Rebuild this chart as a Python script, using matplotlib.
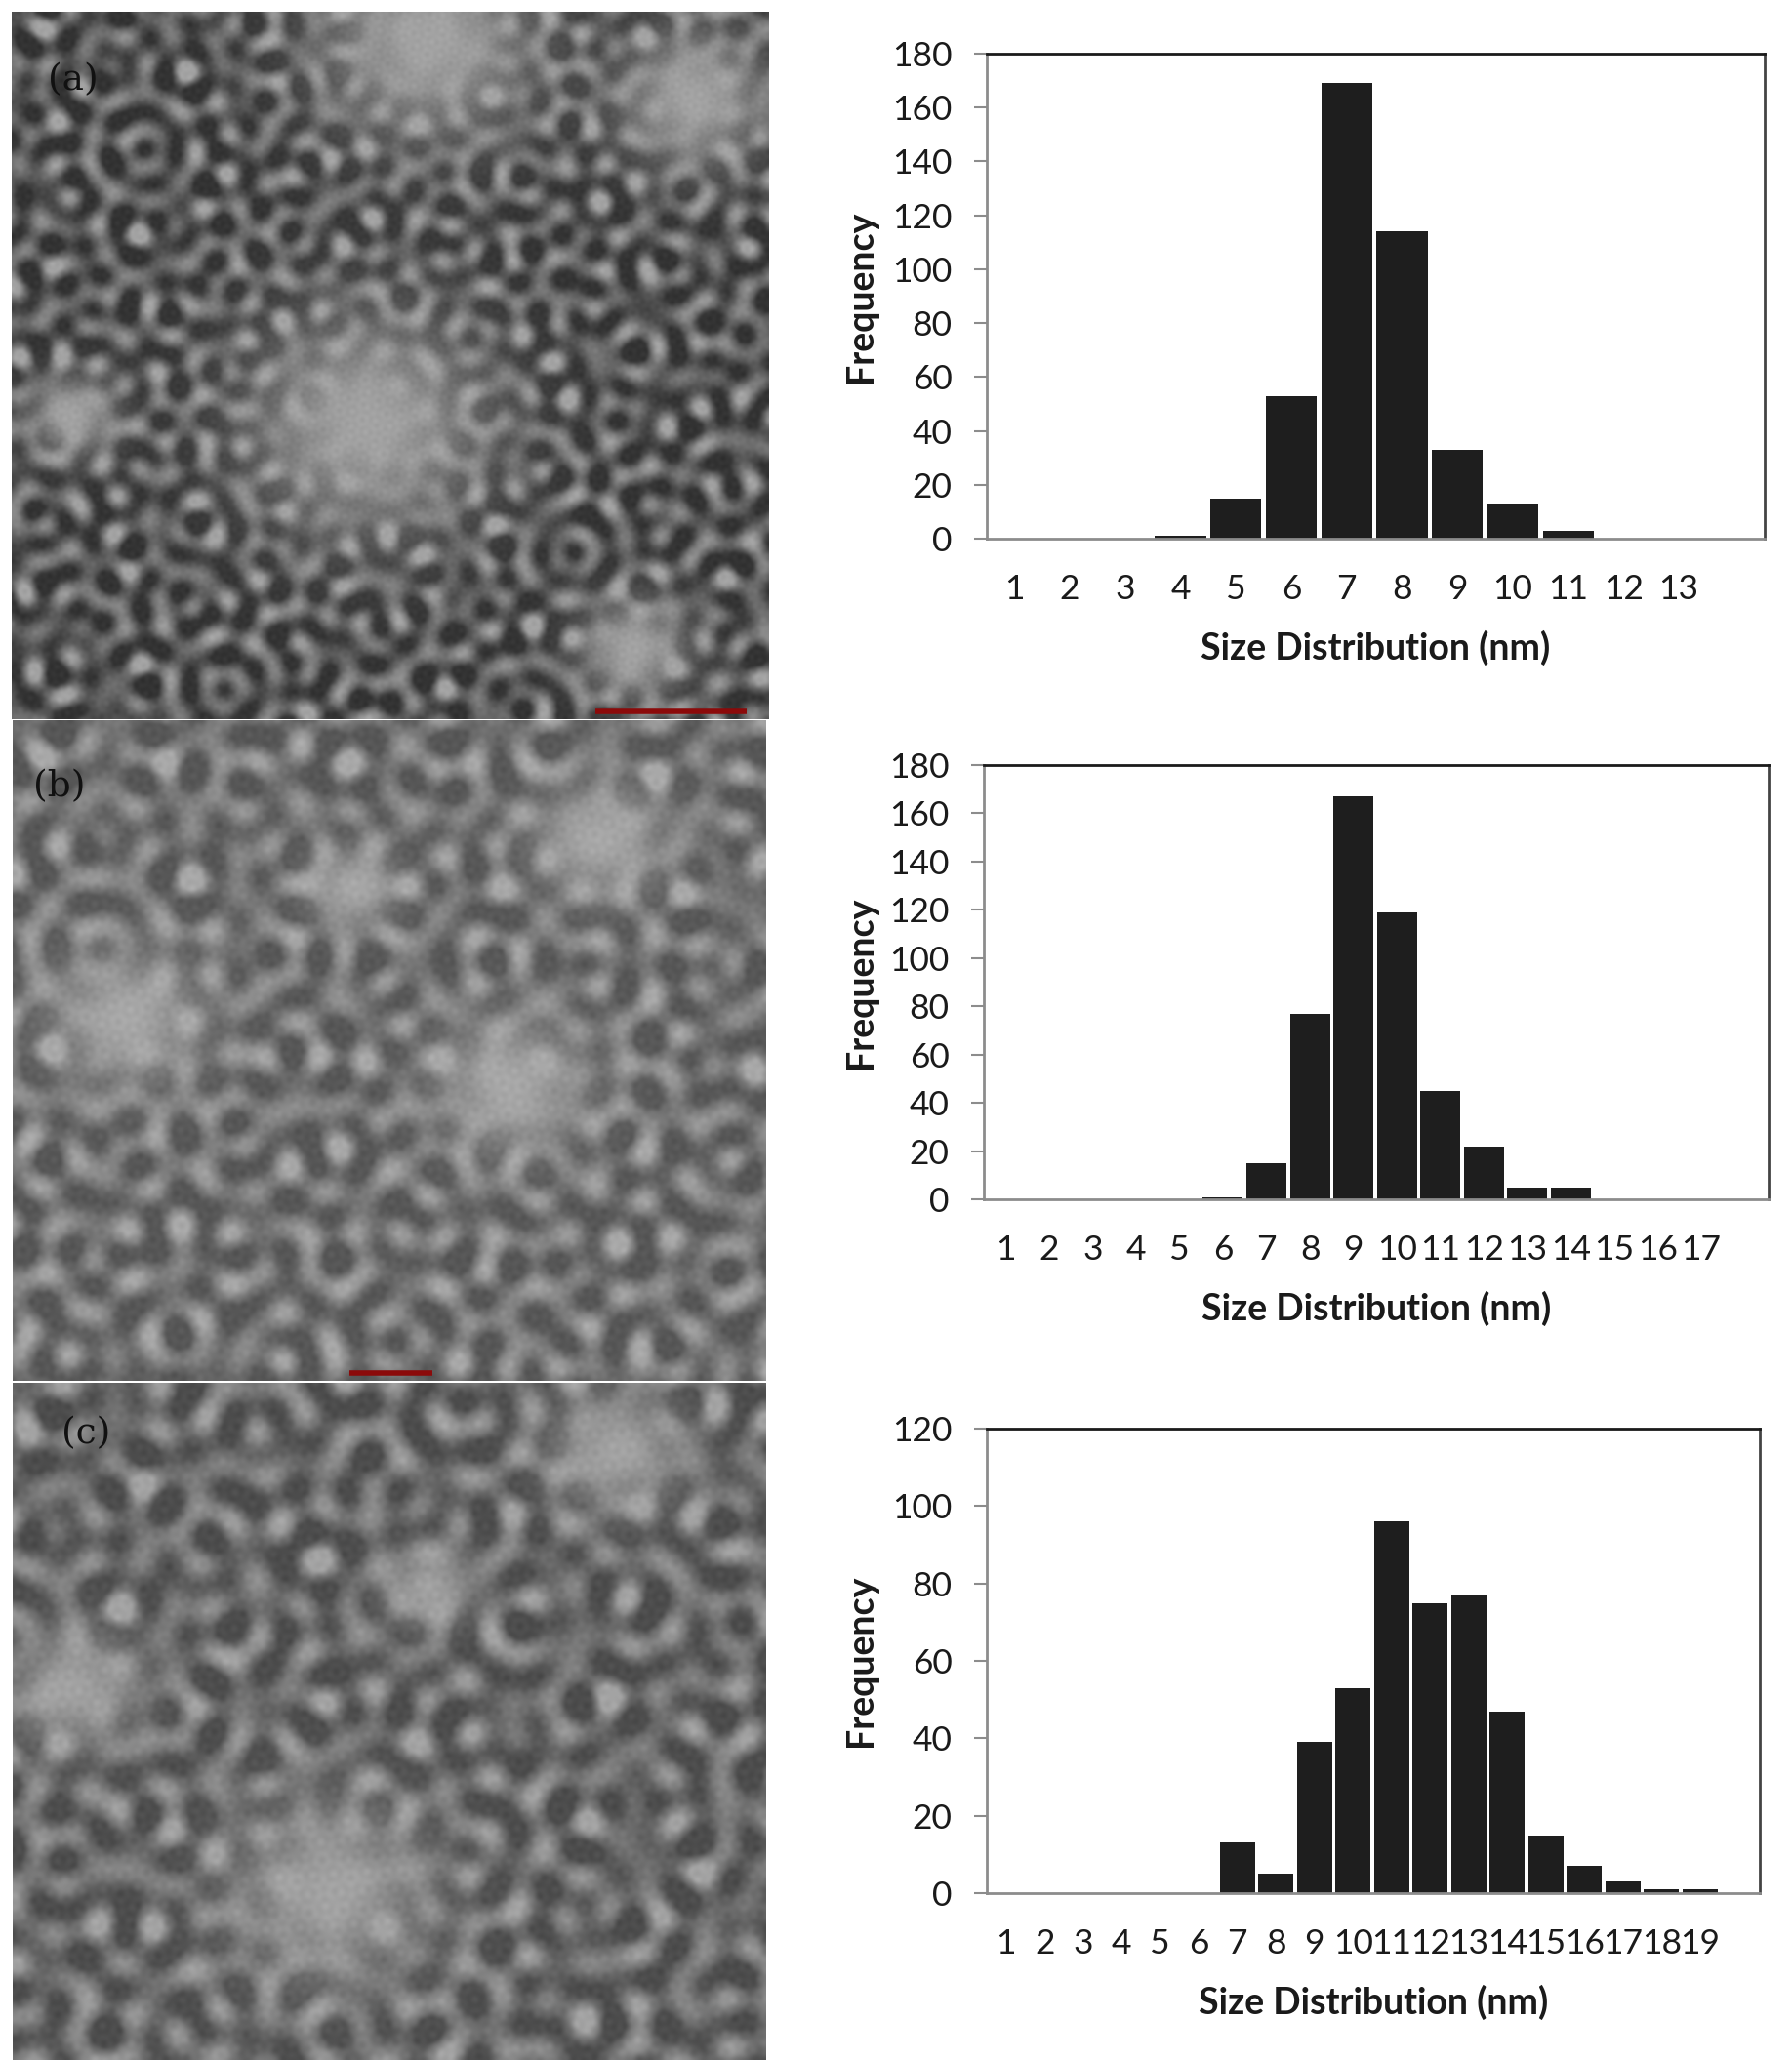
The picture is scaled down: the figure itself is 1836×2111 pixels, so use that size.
# TEM micrographs (placeholder texture) + particle size histograms
import matplotlib
matplotlib.use('Agg')
import matplotlib.pyplot as plt
import numpy as np

plt.rcParams['font.family'] = ['Lato', 'DejaVu Sans']

# size distribution data
sizes_a = list(range(1, 15))
freq_a = [0, 0, 0, 1, 15, 53, 169, 114, 33, 13, 3, 0, 0, 0]
labels_a = [str(i) for i in range(1, 14)] + ['']

sizes_b = list(range(1, 19))
freq_b = [0, 0, 0, 0, 0, 1, 15, 77, 167, 119, 45, 22, 5, 5, 0, 0, 0, 0]
labels_b = [str(i) for i in range(1, 18)] + ['']

sizes_c = list(range(1, 21))
freq_c = [0, 0, 0, 0, 0, 0, 13, 5, 39, 53, 96, 75, 77, 47, 15, 7, 3, 1, 1, 0]
labels_c = [str(i) for i in range(1, 20)] + ['']

panel_tags = ['(a)', '(b)', '(c)']

W, H = 1836, 2111
fig = plt.figure(figsize=(W / 100, H / 100), dpi=100)


def px_axes(x0, y0, x1, y1):
    # rectangle given in pixel coords (top-left origin)
    return fig.add_axes([x0 / W, 1 - y1 / H, (x1 - x0) / W, (y1 - y0) / H])


def quasi(h, w, wl, n, rot):
    # sum of plane waves in n directions -> blobby quasi-periodic pattern
    yy, xx = np.mgrid[0:h, 0:w].astype(float)
    s = np.zeros((h, w))
    for i in range(n):
        a = rot + np.pi * i / n
        s += np.cos(2 * np.pi / wl * (xx * np.cos(a) + yy * np.sin(a)) + i * 2.399)
    return s / n


def tem_texture(h, w, bg, dark, wl, rot, light_spots):
    # deterministic grey pattern standing in for the micrograph
    yy, xx = np.mgrid[0:h, 0:w].astype(float)
    s = 0.6 * quasi(h, w, wl, 7, rot) + 0.4 * quasi(h, w, wl * 1.37, 5, rot + 0.9)
    blobs = np.clip((s + 0.45) * 1.5, 0, 1)
    grain = quasi(h, w, wl / 4.3, 5, rot + 0.4)
    mask = np.ones((h, w))
    for cx, cy, r in light_spots:
        g = np.exp(-(((xx / w - cx) ** 2 + (yy / h - cy) ** 2) / (2 * r ** 2)))
        mask = mask * (1 - g)
    val = bg - (bg - dark) * blobs * mask + 0.035 * grain
    return np.clip(val, 0, 1)


images = [
    ((12, 12, 788, 737), 0.64, 0.2, 17, 0.3,
     [(0.47, 0.58, 0.11), (0.55, 0.04, 0.1), (0.08, 0.57, 0.04), (0.9, 0.12, 0.07), (0.82, 0.9, 0.05)],
     (75, 82), (610, 765, 729)),
    ((13, 738, 785, 1415), 0.66, 0.34, 22, 0.7,
     [(0.15, 0.45, 0.07), (0.78, 0.18, 0.06), (0.66, 0.55, 0.07), (0.45, 0.25, 0.04)],
     (61, 806), (358, 443, 1407)),
    ((13, 1417, 785, 2111), 0.64, 0.3, 23, 1.1,
     [(0.42, 0.75, 0.09), (0.08, 0.45, 0.06), (0.8, 0.1, 0.06), (0.55, 0.3, 0.04)],
     (88, 1469), None),
]

for (box, bg, dark, wl, rot, spots, tag_xy, bar), tag in zip(images, panel_tags):
    x0, y0, x1, y1 = box
    axi = px_axes(x0, y0, x1, y1)
    img = tem_texture(int((y1 - y0) / 2), int((x1 - x0) / 2), bg, dark, wl, rot, spots)
    axi.imshow(img, cmap='gray', vmin=0, vmax=1, aspect='auto', interpolation='bicubic',
               extent=[x0, x1, y1, y0])
    axi.set_xlim(x0, x1)
    axi.set_ylim(y1, y0)
    axi.axis('off')
    axi.text(tag_xy[0], tag_xy[1], tag, fontsize=27, family='DejaVu Serif',
             color='#111111', ha='center', va='center')
    if bar is not None:
        axi.plot([bar[0], bar[1]], [bar[2], bar[2]], color='#8b0a0a', lw=4, solid_capstyle='butt')

charts = [
    ((1011, 55, 1808, 552), sizes_a, freq_a, labels_a, 180, 0.5, 14.55),
    ((1008, 784, 1812, 1229), sizes_b, freq_b, labels_b, 180, 0.5, 18.55),
    ((1011, 1464, 1803, 1940), sizes_c, freq_c, labels_c, 120, 0.5, 20.55),
]

for box, sizes, freq, labels, ymax, xlo, xhi in charts:
    x0, y0, x1, y1 = box
    ax = px_axes(x0, y0, x1, y1)
    ax.bar(sizes, freq, width=0.92, color='#1e1e1e', edgecolor='none')
    ax.set_xlim(xlo, xhi)
    ax.set_ylim(0, ymax)
    ax.set_xticks(sizes)
    ax.set_xticklabels(labels)
    ax.set_yticks(np.arange(0, ymax + 1, 20))
    ax.tick_params(axis='x', length=0, pad=26, labelsize=25.5, colors='#1a1a1a')
    ax.tick_params(axis='y', length=9.5, width=1.5, direction='out', pad=16,
                   labelsize=25.5, color='#8c8c8c', labelcolor='#1a1a1a')
    for side in ['left', 'bottom']:
        ax.spines[side].set_color('#8c8c8c')
        ax.spines[side].set_linewidth(2)
    ax.spines['top'].set_color('#1a1a1a')
    ax.spines['top'].set_linewidth(2)
    ax.spines['right'].set_color('#444444')
    ax.spines['right'].set_linewidth(2)
    ax.set_xlabel('Size Distribution (nm)', fontsize=27, fontweight='bold', color='#1a1a1a')
    ax.set_ylabel('Frequency', fontsize=27, fontweight='bold', color='#1a1a1a')
    wpx, hpx = x1 - x0, y1 - y0
    ax.xaxis.set_label_coords(0.5, -94 / hpx)
    ax.yaxis.set_label_coords((899 - x0) / wpx, 0.5)

fig.savefig('out.png', dpi=100, facecolor='white')
